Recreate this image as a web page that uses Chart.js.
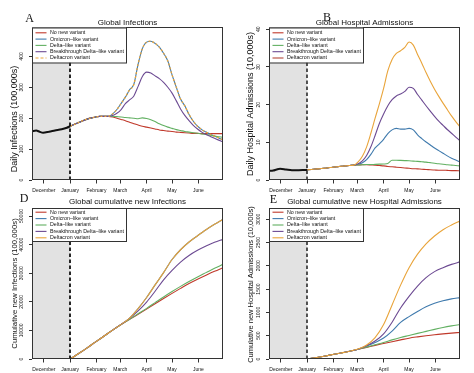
<!DOCTYPE html>
<html><head><meta charset="utf-8">
<script src="https://cdn.jsdelivr.net/npm/chart.js@4"></script>
<style>
html,body{margin:0;padding:0;background:#fff;width:474px;height:373px;overflow:hidden}
canvas{position:absolute}
</style></head><body>
<canvas id="cA" width="237" height="197" style="left:0;top:0"></canvas>
<canvas id="cB" width="237" height="197" style="left:237px;top:0"></canvas>
<canvas id="cD" width="237" height="187" style="left:0;top:186px"></canvas>
<canvas id="cE" width="237" height="187" style="left:237px;top:186px"></canvas>
<script>
// ---- tick labels / categories ----
const monthTicks = [-31, 0, 31, 59, 90, 120, 151];
const monthLabels = ['December', 'January', 'February', 'March', 'April', 'May', 'June'];
const seriesNames = ['No new variant', 'Omicron\u2013like variant', 'Delta\u2013like variant', 'Breakthrough Delta\u2013like variant', 'Deltacron variant'];
const yTicksInf = [0, 100, 200, 300, 400];
const yTicksHosp = [0, 10, 20, 30, 40];
const yTicksCumInf = [0, 10000, 20000, 30000, 40000, 50000];
const yTicksCumHosp = [0, 500, 1000, 1500, 2000, 2500, 3000];

// ---- observed history (days relative to 1 January) ----
const histDays = [-45, -40, -36, -32, -25, -18, -10, -4, 0];
const histInfections = [158, 160, 156, 153, 156, 160, 164, 169, 174];
const histHospital = [2.4, 2.5, 2.8, 3.0, 2.8, 2.6, 2.6, 2.65, 2.7];

// ---- daily projections ----
const dailyDays = [0, 5, 10, 15, 20, 25, 30, 35, 40, 45, 50, 55, 60, 65, 70, 75, 80, 85, 90, 95, 100, 105, 110, 115, 120, 125, 130, 135, 140, 145, 150, 155, 160, 165, 170, 175, 180];

const infNoNew = [174, 180, 186, 192, 197, 201, 204, 206, 206, 206, 204, 200, 196, 192, 187, 182, 178, 174, 171, 168, 165, 162, 160, 158, 157, 155, 154, 153, 152, 151, 151, 150, 150, 150, 150, 150, 150];
const infOmicron = [174, 180, 186, 192, 197, 201, 204, 206, 206, 206, 214, 228, 248, 268, 292, 310, 375, 425, 446, 449, 442, 430, 410, 385, 340, 300, 262, 240, 212, 190, 174, 163, 155, 148, 142, 136, 130];
const infDelta = [174, 180, 186, 192, 197, 201, 204, 206, 206, 206, 206, 205, 204, 202, 201, 200, 198, 201, 199, 195, 189, 182, 176, 171, 167, 163, 160, 157, 155, 153, 151, 149, 147, 145, 142, 140, 138];
const infBreak = [174, 180, 186, 192, 197, 201, 204, 206, 206, 206, 209, 216, 228, 247, 259, 272, 303, 335, 349, 346, 337, 328, 316, 300, 281, 256, 230, 209, 192, 177, 165, 155, 147, 141, 135, 129, 123];
const infDeltacron = [174, 180, 186, 192, 197, 201, 204, 206, 206, 206, 214, 228, 248, 268, 292, 310, 375, 425, 446, 449, 442, 430, 410, 385, 340, 300, 262, 240, 212, 190, 174, 163, 155, 148, 142, 136, 130];

const hospNoNew = [2.7, 2.8, 2.9, 3.0, 3.1, 3.25, 3.4, 3.5, 3.65, 3.75, 3.85, 3.95, 4.0, 4.05, 4.05, 4.0, 3.95, 3.85, 3.75, 3.6, 3.5, 3.4, 3.3, 3.2, 3.1, 3.0, 2.95, 2.85, 2.8, 2.7, 2.65, 2.6, 2.6, 2.55, 2.5, 2.5, 2.45];
const hospOmicron = [2.7, 2.8, 2.9, 3.0, 3.1, 3.25, 3.4, 3.5, 3.65, 3.75, 3.85, 3.95, 4.2, 4.6, 5.4, 6.8, 8.5, 9.6, 10.8, 12.3, 13.3, 13.7, 13.5, 13.5, 13.7, 13.3, 12.0, 11.0, 10.1, 9.3, 8.5, 7.8, 7.1, 6.4, 5.8, 5.3, 4.8];
const hospDelta = [2.7, 2.8, 2.9, 3.0, 3.1, 3.25, 3.4, 3.5, 3.65, 3.75, 3.85, 3.95, 4.0, 4.05, 4.1, 4.1, 4.15, 4.2, 4.25, 4.4, 5.25, 5.25, 5.2, 5.15, 5.1, 5.0, 4.95, 4.85, 4.75, 4.6, 4.45, 4.3, 4.2, 4.05, 3.95, 3.85, 3.75];
const hospBreak = [2.7, 2.8, 2.9, 3.0, 3.1, 3.25, 3.4, 3.5, 3.65, 3.75, 3.85, 3.95, 4.3, 5.1, 6.5, 8.8, 11.8, 15.0, 17.5, 19.7, 21.3, 22.3, 22.8, 23.5, 24.6, 24.3, 22.7, 21.2, 19.7, 18.3, 16.9, 15.6, 14.5, 13.4, 12.4, 11.4, 10.4];
const hospDeltacron = [2.7, 2.8, 2.9, 3.0, 3.1, 3.25, 3.4, 3.5, 3.65, 3.75, 3.85, 3.95, 4.8, 6.3, 8.8, 12.4, 16.4, 20.2, 24.3, 29.0, 32.0, 33.6, 34.3, 35.2, 36.6, 35.8, 33.3, 31.0, 28.5, 26.2, 24.1, 22.2, 20.4, 18.7, 17.0, 15.5, 14.1];

// ---- cumulative projections ----
const cumDays = [0, 10, 20, 30, 40, 50, 60, 70, 80, 90, 100, 110, 120, 130, 140, 150, 160, 170, 180];

const cumInfNoNew = [0, 1900, 3900, 6000, 8050, 10100, 12050, 13850, 15650, 17450, 19300, 21150, 22950, 24700, 26400, 27900, 29300, 30650, 31900];
const cumInfOmicron = [0, 1900, 3900, 6000, 8050, 10100, 12100, 14300, 17600, 21500, 25900, 30200, 34800, 38200, 40900, 43100, 45200, 47100, 48850];
const cumInfDelta = [0, 1900, 3900, 6000, 8050, 10100, 12050, 13900, 15800, 17700, 19700, 21700, 23600, 25400, 27100, 28700, 30200, 31700, 33100];
const cumInfBreak = [0, 1900, 3900, 6000, 8050, 10100, 12100, 14200, 16800, 19900, 23700, 27700, 31000, 33900, 36200, 38000, 39500, 40800, 41850];
const cumInfDeltacron = [0, 1900, 3900, 6000, 8050, 10100, 12100, 14300, 17600, 21500, 25900, 30200, 34800, 38200, 40900, 43100, 45200, 47100, 48850];

const cumHospNoNew = [0, 28, 60, 95, 130, 168, 208, 250, 293, 333, 372, 410, 447, 475, 500, 522, 540, 556, 570];
const cumHospOmicron = [0, 28, 60, 95, 130, 168, 210, 280, 355, 450, 600, 785, 910, 1020, 1120, 1195, 1250, 1290, 1318];
const cumHospDelta = [0, 28, 60, 95, 130, 168, 208, 255, 305, 355, 410, 460, 505, 550, 592, 635, 675, 710, 741];
const cumHospBreak = [0, 28, 60, 95, 130, 168, 210, 285, 385, 540, 790, 1095, 1345, 1565, 1745, 1875, 1960, 2030, 2085];
const cumHospDeltacron = [0, 28, 60, 95, 130, 168, 215, 300, 460, 740, 1160, 1585, 1960, 2250, 2470, 2640, 2775, 2875, 2960];

// ---- styling ----
const RED = '#c0392b', BLUE = '#3f7aad', GREEN = '#62b062', PURPLE = '#6c4a92', ORANGE = '#e9a43a';
const seriesColors = [RED, BLUE, GREEN, PURPLE, ORANGE];
const SANS = '"Liberation Sans", Arial, Helvetica, sans-serif';
const SERIF = '"Liberation Serif", "Times New Roman", serif';

function pts(days, vals) { return days.map((d, i) => ({x: d, y: vals[i]})); }

function panelPlugin(p) {
  return {
    id: 'panelDecor',
    beforeDatasetsDraw(chart) {
      const {ctx, chartArea: a, scales: {x}} = chart;
      const xj = x.getPixelForValue(0);
      ctx.save();
      ctx.fillStyle = '#e2e2e2';
      ctx.fillRect(a.left, a.top, xj - a.left, a.bottom - a.top);
      ctx.restore();
    },
    afterDatasetsDraw(chart) {
      const {ctx, chartArea: a, scales: {x}} = chart;
      const xj = Math.round(x.getPixelForValue(0));
      ctx.save();
      ctx.strokeStyle = '#111';
      ctx.lineWidth = p.dashW;
      ctx.setLineDash(p.dash);
      ctx.beginPath(); ctx.moveTo(xj, a.bottom); ctx.lineTo(xj, a.top); ctx.stroke();
      ctx.setLineDash([]);
      ctx.lineWidth = 1;
      ctx.strokeStyle = '#333';
      ctx.strokeRect(a.left + 0.5, a.top + 0.5, a.right - a.left - 1, a.bottom - a.top - 1);
      // legend
      const lx = a.left, ly = a.top + p.legDy;
      ctx.fillStyle = '#fff';
      ctx.fillRect(lx, ly, 94, p.legH);
      ctx.strokeStyle = '#333';
      ctx.strokeRect(lx + 0.5, ly + 0.5, 94, p.legH);
      ctx.font = '5.3px ' + SANS;
      ctx.textBaseline = 'middle';
      ctx.textAlign = 'left';
      for (let i = 0; i < seriesNames.length; i++) {
        const yy = ly + p.legRow0 + i * p.legStep;
        ctx.strokeStyle = p.legColors[i];
        ctx.lineWidth = 1.1;
        ctx.setLineDash(p.legDash[i]);
        ctx.beginPath(); ctx.moveTo(lx + 3.5, yy); ctx.lineTo(lx + 14.5, yy); ctx.stroke();
        ctx.setLineDash([]);
        ctx.fillStyle = '#111';
        ctx.fillText(seriesNames[i], lx + 18, yy);
      }
      ctx.restore();
    },
    afterDraw(chart) {
      const {ctx, chartArea: a} = chart;
      ctx.save();
      ctx.fillStyle = '#111';
      ctx.textBaseline = 'middle';
      ctx.textAlign = 'center';
      ctx.font = '8px ' + SANS;
      ctx.fillText(p.title, (a.left + a.right) / 2, p.titleY);
      ctx.font = '12px ' + SERIF;
      ctx.fillText(p.letter, p.letterX, p.letterY);
      ctx.translate(p.ylabX, p.ylabY);
      ctx.rotate(-Math.PI / 2);
      ctx.font = p.ylabSize + 'px ' + SANS;
      ctx.fillText(p.ylab, 0, 0);
      ctx.restore();
    }
  };
}

function makePanel(id, p) {
  const datasets = [];
  if (p.hist) {
    datasets.push({label: 'Observed', data: pts(histDays, p.hist), borderColor: '#111', borderWidth: 2, pointRadius: 0, cubicInterpolationMode: 'monotone', order: -1});
  }
  p.series.forEach((vals, i) => {
    datasets.push({
      label: seriesNames[i], data: pts(p.days, vals), borderColor: seriesColors[i],
      borderWidth: p.dsWidth[i], pointRadius: 0, cubicInterpolationMode: 'monotone',
      borderDash: p.dsDash[i],
      order: p.series.length - i   // later series drawn on top (as in the original)
    });
  });
  new Chart(document.getElementById(id), {
    type: 'line',
    data: {datasets},
    options: {
      responsive: false, maintainAspectRatio: false, animation: false, events: [],
      layout: {padding: {top: p.padTop, right: 14, left: 0, bottom: 0}},
      plugins: {legend: {display: false}, tooltip: {enabled: false}, title: {display: false}},
      scales: {
        x: {
          type: 'linear', min: -45, max: 180,
          afterBuildTicks: s => { s.ticks = monthTicks.map(v => ({value: v})); },
          afterFit: s => { s.height = p.xAxisH; },
          ticks: {
            autoSkip: false, maxRotation: 0, minRotation: 0, padding: 4,
            font: {size: 5, family: SANS}, color: '#111',
            callback: v => monthLabels[monthTicks.indexOf(v)]
          },
          grid: {display: true, drawOnChartArea: false, drawTicks: true, tickLength: 3.5, color: '#333'},
          border: {display: false}
        },
        y: {
          type: 'linear', min: 0, max: p.ymax,
          afterBuildTicks: s => { s.ticks = p.yTicks.map(v => ({value: v})); },
          afterFit: s => { s.width = 32; },
          ticks: {
            autoSkip: false, minRotation: 90, maxRotation: 90,
            crossAlign: 'center', padding: p.ypad,
            font: {size: 5, family: SANS}, color: '#111',
            callback: v => String(v)
          },
          grid: {display: true, drawOnChartArea: false, drawTicks: true, tickLength: 3, color: '#333'},
          border: {display: false}
        }
      }
    },
    plugins: [panelPlugin(p)]
  });
}

const legDashA = [[], [], [], [], [3, 2]];
const noDash = [[], [], [], [], []];
const thin = [1.1, 1.1, 1.1, 1.1, 1.1];

makePanel('cA', {
  days: dailyDays, hist: histInfections,
  series: [infNoNew, infOmicron, infDelta, infBreak, infDeltacron],
  dsDash: [[], [], [], [], [2, 2]], dsWidth: [1.1, 1.1, 1.1, 1.1, 1.3],
  ymax: 495, yTicks: yTicksInf, ypad: 2.8, padTop: 27, xAxisH: 17,
  title: 'Global Infections', titleY: 23, letter: 'A', letterX: 29.5, letterY: 18.5,
  ylab: 'Daily Infections (100,000s)', ylabX: 14.5, ylabY: 119, ylabSize: 9,
  legDy: 0.5, legH: 35, legRow0: 5.3, legStep: 6.3,
  legColors: [RED, BLUE, GREEN, PURPLE, ORANGE], legDash: legDashA,
  dash: [3.5, 2.5], dashW: 1.8
});
makePanel('cB', {
  days: dailyDays, hist: histHospital,
  series: [hospNoNew, hospOmicron, hospDelta, hospBreak, hospDeltacron],
  dsDash: noDash, dsWidth: thin,
  ymax: 40.6, yTicks: yTicksHosp, ypad: 4.2, padTop: 27, xAxisH: 17,
  title: 'Global Hospital Admissions', titleY: 23, letter: 'B', letterX: 90, letterY: 17.5,
  ylab: 'Daily Hospital Admissions (10,000s)', ylabX: 14, ylabY: 104, ylabSize: 9,
  legDy: 0.5, legH: 35, legRow0: 5.3, legStep: 6.3,
  legColors: [RED, BLUE, GREEN, PURPLE, '#b5483a'], legDash: noDash,
  dash: [3.5, 2.5], dashW: 1.4
});
makePanel('cD', {
  days: cumDays, hist: null,
  series: [cumInfNoNew, cumInfOmicron, cumInfDelta, cumInfBreak, cumInfDeltacron],
  dsDash: noDash, dsWidth: thin,
  ymax: 52800, yTicks: yTicksCumInf, ypad: 0.3, padTop: 22, xAxisH: 14,
  title: 'Global cumulative new Infections', titleY: 16, letter: 'D', letterX: 24, letterY: 13,
  ylab: 'Cumulative new Infections (100,000s)', ylabX: 15, ylabY: 97.5, ylabSize: 7.8,
  legDy: 0, legH: 33, legRow0: 4.2, legStep: 6.4,
  legColors: [RED, BLUE, GREEN, PURPLE, ORANGE], legDash: noDash,
  dash: [3.5, 2.5], dashW: 1.8
});
makePanel('cE', {
  days: cumDays, hist: null,
  series: [cumHospNoNew, cumHospOmicron, cumHospDelta, cumHospBreak, cumHospDeltacron],
  dsDash: noDash, dsWidth: thin,
  ymax: 3240, yTicks: yTicksCumHosp, ypad: 1.5, padTop: 22, xAxisH: 14,
  title: 'Global cumulative new Hospital Admissions', titleY: 16, letter: 'E', letterX: 36.5, letterY: 14,
  ylab: 'Cumulative new Hospital Admissions (10,000s)', ylabX: 14, ylabY: 98.5, ylabSize: 7.5,
  legDy: 0, legH: 33, legRow0: 4.2, legStep: 6.4,
  legColors: [RED, BLUE, GREEN, PURPLE, ORANGE], legDash: noDash,
  dash: [3.5, 2.5], dashW: 1.4
});
</script>
</body></html>
